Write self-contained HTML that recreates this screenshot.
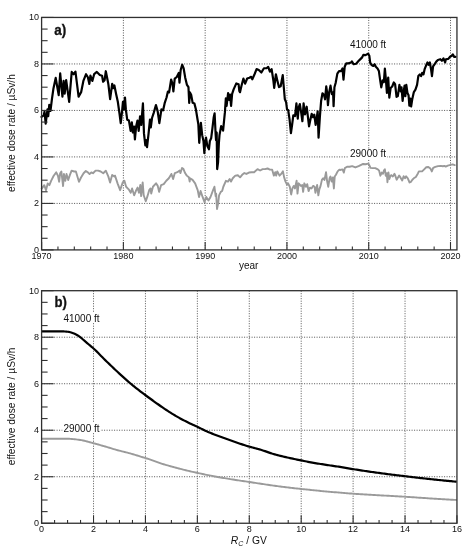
<!DOCTYPE html><html><head><meta charset="utf-8"><title>effective dose rate</title>
<style>html,body{margin:0;padding:0;background:#fff}svg{display:block}text{font-family:"Liberation Sans",Arial,sans-serif;fill:#111}</style></head><body>
<svg width="468" height="550" viewBox="0 0 468 550">
<rect width="468" height="550" fill="#fff"/>
<g stroke="#555" stroke-width="1" stroke-dasharray="1 1.5" fill="none">
<line x1="41.6" y1="203.41" x2="456.95" y2="203.41"/>
<line x1="41.6" y1="156.92" x2="456.95" y2="156.92"/>
<line x1="41.6" y1="110.43" x2="456.95" y2="110.43"/>
<line x1="41.6" y1="63.94" x2="456.95" y2="63.94"/>
<line x1="123.38" y1="17.45" x2="123.38" y2="249.9"/>
<line x1="205.16" y1="17.45" x2="205.16" y2="249.9"/>
<line x1="286.94" y1="17.45" x2="286.94" y2="249.9"/>
<line x1="368.72" y1="17.45" x2="368.72" y2="249.9"/>
<line x1="450.50" y1="17.45" x2="450.50" y2="249.9"/>
</g>
<polyline points="41.71,188.59 44.27,185.17 45.98,190.3 47.69,183.46 49.4,185.17 51.11,180.9 53.68,175.77 56.24,172.35 57.95,175.77 59.15,181.75 60.17,173.21 61.37,171.5 63.08,186.03 63.93,174.06 65.3,180.9 66.5,174.06 68.21,180.04 69.91,174.91 71.62,170.64 74.19,171.5 75.9,171.5 78.97,181.75 81.03,177.48 83.59,173.21 85.81,170.98 87.86,172.35 89.57,174.06 91.28,172.35 92.99,173.21 95.56,170.64 98.12,170.64 100.68,171.5 103.25,173.21 105.81,170.64 108.38,176.62 110.09,182.61 112.14,174.91 114.36,176.62 115,175.64 117.56,183.33 120.13,190.17 122.69,182.48 124.4,180.77 126.11,186.75 128.68,189.32 130.73,192.74 132.09,188.46 134.15,195.3 135.85,191.03 137.56,187.61 138.93,192.74 140.3,185.04 141.15,196.15 142.69,182.48 143.72,195.3 145.77,201.28 147.48,196.15 149.19,190.17 150.56,188.46 151.24,193.59 152.95,186.75 156.03,183.33 157.74,185.9 159.1,191.88 161.15,185.04 163.72,184.19 166.28,180.77 168.85,178.21 171.41,173.93 173.12,179.06 174.83,173.08 177.39,172.22 179.62,170.51 180.47,173.08 182.01,167.95 183.38,168.8 185.09,173.08 186.79,175.64 188.85,177.35 189.7,181.62 190,178.21 192.56,179.91 195.13,183.33 197.69,190.17 199.06,197.01 200.6,191.03 202.31,196.15 204.53,202.14 206.24,197.01 208.46,200.43 210.51,197.01 213.08,190.17 214.44,186.75 215.64,196.15 216.15,193.59 217.01,208.97 218.21,202.99 219.06,195.3 220.77,191.88 222.14,191.03 223.33,186.75 225.9,180.77 227.95,181.62 229.66,179.06 231.03,181.62 232.74,178.21 235.3,175.64 237.86,175.3 240.09,177.35 242.14,174.79 244.36,173.08 246.41,173.93 248.97,172.56 251.54,172.22 254.1,172.22 257.52,169.15 260.09,170.51 262.65,169.15 265,169.15 267.56,168.46 269.79,169.66 272.18,169.66 273.89,175.64 275.26,172.22 276.11,175.64 277.31,171.37 279.53,175.64 281.24,173.93 282.95,171.37 284.15,177.35 285.51,181.62 286.88,184.19 288.08,183.33 289.79,186.75 291.15,194.44 292.35,188.46 293.72,185.9 294.91,188.46 296.62,180.77 297.48,193.59 298.68,183.33 300.9,185.9 302.26,185.04 303.12,191.88 304.32,183.33 306.03,186.75 307.22,184.19 308.59,191.03 309.96,187.61 311.5,188.46 313.21,185.9 314.57,186.75 315.43,192.74 317.14,185.04 318.33,195.3 319.36,189.32 320.56,185.9 321.92,179.91 323.12,178.21 324.49,179.91 326.03,172.22 327.05,180.77 328.25,186.75 329.62,178.21 330.47,176.5 331.67,181.62 332.86,177.35 333.89,188.46 334.74,176.5 335.94,174.79 337.65,171.37 339.36,169.66 340,170 342.56,169.36 343.85,172.56 344.87,168.08 347.05,166.79 349.62,166.79 352.18,166.15 355.38,167.44 358.59,166.15 361.15,164.87 363.08,163.97 365.64,164.23 368.21,163.59 369.49,165.51 370.51,167.82 372.69,168.08 375.26,168.08 377.82,169.36 379.1,170.64 380.38,175.77 381.67,172.56 382.95,173.85 383.85,170.64 384.87,169.36 385.77,175.77 386.79,173.21 387.44,182.18 388.46,172.56 389.36,178.97 390.26,176.41 391.28,175.13 392.82,176.41 394.49,173.85 395,174.86 396.67,179.72 399.17,175.56 400.56,177.64 402.22,180.42 403.61,176.25 405,178.33 406.11,176.25 407.78,178.33 409.58,182.5 410.97,181.81 412.36,179.72 413.75,178.33 415.83,176.94 417.92,173.47 418.89,171.39 420.69,171.39 422.08,171.39 424.17,169.31 426.25,167.22 428.33,166.94 430.42,168.61 431.81,171.39 433.19,167.92 435.28,166.94 438.06,166.11 440.83,165.83 442.92,166.25 444.31,165.83 445.69,166.53 447.78,165.56 450.56,164.86 452.64,164.44 454.72,165.14" fill="none" stroke="#9a9a9a" stroke-width="1.9" stroke-linejoin="round" stroke-linecap="round"/>
<polyline points="41.5,116.84 43.74,115.34 44.49,111.6 45.68,123.57 47.48,109.36 48.23,116.09 49.27,104.87 50.47,110.85 51.97,98.89 53.46,88.42 55.7,77.95 58.7,95.15 60.19,73.46 62.43,96.64 63.63,80.94 64.68,93.65 66.17,80.19 69.17,101.88 71.71,71.97 73.65,74.21 75.45,71.67 78.59,96.64 81.13,92.16 83.37,80.94 86.07,74.21 87.86,77.2 89.36,83.93 90.4,75.7 92.35,80.94 94.14,74.21 96.84,71.97 99.83,74.96 102.07,75.7 103.12,81.69 104.61,80.19 105.81,71.22 108.05,82.43 108.42,84.66 110.13,99.19 112.18,83.8 113.21,88.08 114.4,85.51 116.11,94.06 117.82,101.75 119.53,113.72 120.73,123.12 122.09,111.15 122.95,101.75 123.8,109.44 125,97.48 125.85,109.44 127.22,119.7 128.93,120.56 130.64,130.81 131.84,122.26 132.86,132.52 134.06,126.54 134.91,139.36 136.11,126.54 137.48,120.56 138.68,130.81 140.04,116.28 141.24,124.83 142.95,103.46 143.97,133.38 145.34,145.34 146.03,140.21 147.05,147.05 148.59,133.38 149.96,119.7 150.81,127.39 152.01,117.99 153.72,112.86 155.94,105.17 157.65,111.15 159.36,123.12 161.41,109.44 163.12,110.3 164.83,102.61 166.54,97.48 167.91,91.5 169.1,92.35 171.15,79.53 172.52,83.8 173.38,91.5 174.74,78.68 176.79,76.97 177.24,75.94 178.74,72.95 179.49,82.67 180.68,69.96 182.18,64.72 183.67,68.46 185.17,77.43 186.97,84.91 188.46,87.16 189.21,102.86 189.96,92.39 191.15,94.64 192.65,102.86 194.44,103.61 195.94,109.59 197.05,116.54 198.33,124.23 199.23,142.82 200.9,122.95 202.18,135.13 203.46,140.9 204.36,153.08 205.13,142.18 206.03,137.69 207.31,146.03 208.97,149.23 209.87,140.9 211.15,138.33 212.44,128.08 213.72,117.18 214.62,113.33 215.64,134.49 216.03,140.26 216.67,132.56 217.18,169.1 218.08,162.05 218.85,143.46 219.49,135.13 221.15,126.15 222.05,128.08 223.08,130.64 223.97,121.67 224.87,112.69 225.85,98.37 226.6,105.85 228.1,93.14 229.14,99.87 230.04,94.64 231.09,105.85 232.13,93.89 233.63,89.4 236.32,83.42 238.57,84.17 239.31,90.9 240,92.19 241.37,86.21 243.42,78.51 245.13,83.64 247.18,78.51 249.4,77.66 251.11,76.8 252.31,79.37 254.53,74.24 256.58,69.11 258.8,69.97 261.37,72.53 263.93,68.26 266.5,68.26 268.21,66.89 269.91,71.68 271.62,69.11 273.33,80.22 274.19,87.91 275.9,74.24 277.26,80.22 278.97,87.06 280.68,86.21 282.74,75.09 283.93,88.77 284.79,99.03 286.15,102.44 287.01,109.28 288.21,110.14 289.57,119.54 290.94,133.21 292.14,124.67 293.33,115.26 295.04,116.12 296.41,103.3 297.78,118.68 298.63,107.57 299.83,104.15 301.2,112.7 302.39,121.25 303.59,103.3 304.96,114.41 306.67,106.72 308.03,117.83 309.06,126.38 310,121.5 311.71,113.81 313.08,117.23 314.27,114.67 315.64,124.92 316.84,117.23 317.69,111.25 318.55,137.74 319.91,116.38 321.11,100.99 322.48,93.3 324.02,95.01 325.04,99.28 326.24,86.46 327.09,92.44 327.95,105.26 329.15,92.44 330.51,85.61 331.88,94.15 333.08,92.44 333.59,106.12 334.44,87.32 335.64,83.04 337.35,73.64 339.06,71.08 341.11,71.08 342.48,68.51 343.5,79.62 344.7,66.8 346.24,63.38 348.46,63.38 351.03,62.53 351.88,61.33 353.59,64.24 356.15,63.73 358.72,60.82 360.43,59.11 362.14,57.4 363.33,54.84 365.56,55.18 368.12,53.64 369.32,55.69 370.17,62.53 371.54,65.09 373.25,65.95 374.62,64.24 375.81,66.8 377.52,68.51 378.89,71.08 380.09,79.62 381.28,87.32 382.65,80.48 383.85,82.19 384.87,68.51 385.8,78.46 386.92,92.88 388.21,77.66 389.33,97.69 390.61,88.08 392.21,86.47 393.81,82.47 395.1,84.07 396.54,96.89 397.82,96.09 399.42,84.87 400.71,91.28 401.51,87.28 402.63,100.9 403.75,91.28 404.55,85.67 405.35,96.09 406.31,84.87 407.44,92.88 408.56,95.29 409.36,105.71 410.32,98.49 411.12,106.51 412.24,99.29 413.85,92.08 415.45,89.68 417.05,84.87 418.33,76.06 419.78,74.46 421.06,76.06 422.18,72.85 423.46,74.46 424.74,68.85 426.35,64.84 427.47,62.44 428.59,64.84 429.87,62.44 430.99,68.85 431.96,76.06 433.08,66.44 434.68,64.04 436.28,61.63 437.88,60.03 440.29,59.23 441.89,60.83 443.49,58.43 445.1,62.44 445.9,59.23 448.3,58.91 449.9,56.83 451.51,56.03 452.79,54.42 454.23,56.83 455.51,56.83" fill="none" stroke="#000" stroke-width="2.2" stroke-linejoin="round" stroke-linecap="round"/>
<rect x="349" y="39.5" width="38" height="10" fill="#fff"/>
<rect x="349" y="149" width="38" height="10" fill="#fff"/>
<text x="350" y="47.9" font-size="10">41000 ft</text>
<text x="350" y="157.4" font-size="10">29000 ft</text>
<text x="54.3" y="35.2" font-size="15" font-weight="bold" stroke="#1a1a1a" stroke-width="0.35" textLength="12" lengthAdjust="spacingAndGlyphs">a)</text>
<g stroke="#303030" stroke-width="1.1" fill="none">
<line x1="41.6" y1="249.90" x2="53.6" y2="249.90"/>
<line x1="41.6" y1="238.28" x2="47.6" y2="238.28"/>
<line x1="41.6" y1="226.66" x2="47.6" y2="226.66"/>
<line x1="41.6" y1="215.03" x2="47.6" y2="215.03"/>
<line x1="41.6" y1="203.41" x2="53.6" y2="203.41"/>
<line x1="41.6" y1="191.79" x2="47.6" y2="191.79"/>
<line x1="41.6" y1="180.17" x2="47.6" y2="180.17"/>
<line x1="41.6" y1="168.54" x2="47.6" y2="168.54"/>
<line x1="41.6" y1="156.92" x2="53.6" y2="156.92"/>
<line x1="41.6" y1="145.30" x2="47.6" y2="145.30"/>
<line x1="41.6" y1="133.68" x2="47.6" y2="133.68"/>
<line x1="41.6" y1="122.05" x2="47.6" y2="122.05"/>
<line x1="41.6" y1="110.43" x2="53.6" y2="110.43"/>
<line x1="41.6" y1="98.81" x2="47.6" y2="98.81"/>
<line x1="41.6" y1="87.19" x2="47.6" y2="87.19"/>
<line x1="41.6" y1="75.56" x2="47.6" y2="75.56"/>
<line x1="41.6" y1="63.94" x2="53.6" y2="63.94"/>
<line x1="41.6" y1="52.32" x2="47.6" y2="52.32"/>
<line x1="41.6" y1="40.69" x2="47.6" y2="40.69"/>
<line x1="41.6" y1="29.07" x2="47.6" y2="29.07"/>
<line x1="41.6" y1="17.45" x2="53.6" y2="17.45"/>
<line x1="41.60" y1="249.9" x2="41.60" y2="241.9"/>
<line x1="123.38" y1="249.9" x2="123.38" y2="241.9"/>
<line x1="205.16" y1="249.9" x2="205.16" y2="241.9"/>
<line x1="286.94" y1="249.9" x2="286.94" y2="241.9"/>
<line x1="368.72" y1="249.9" x2="368.72" y2="241.9"/>
<line x1="450.50" y1="249.9" x2="450.50" y2="241.9"/>
<line x1="57.96" y1="249.9" x2="57.96" y2="246.6"/>
<line x1="74.31" y1="249.9" x2="74.31" y2="246.6"/>
<line x1="90.67" y1="249.9" x2="90.67" y2="246.6"/>
<line x1="107.02" y1="249.9" x2="107.02" y2="246.6"/>
<line x1="139.74" y1="249.9" x2="139.74" y2="246.6"/>
<line x1="156.09" y1="249.9" x2="156.09" y2="246.6"/>
<line x1="172.45" y1="249.9" x2="172.45" y2="246.6"/>
<line x1="188.80" y1="249.9" x2="188.80" y2="246.6"/>
<line x1="221.52" y1="249.9" x2="221.52" y2="246.6"/>
<line x1="237.87" y1="249.9" x2="237.87" y2="246.6"/>
<line x1="254.23" y1="249.9" x2="254.23" y2="246.6"/>
<line x1="270.58" y1="249.9" x2="270.58" y2="246.6"/>
<line x1="303.30" y1="249.9" x2="303.30" y2="246.6"/>
<line x1="319.65" y1="249.9" x2="319.65" y2="246.6"/>
<line x1="336.01" y1="249.9" x2="336.01" y2="246.6"/>
<line x1="352.36" y1="249.9" x2="352.36" y2="246.6"/>
<line x1="385.08" y1="249.9" x2="385.08" y2="246.6"/>
<line x1="401.43" y1="249.9" x2="401.43" y2="246.6"/>
<line x1="417.79" y1="249.9" x2="417.79" y2="246.6"/>
<line x1="434.14" y1="249.9" x2="434.14" y2="246.6"/>
</g>
<rect x="41.6" y="17.45" width="415.34999999999997" height="232.45000000000002" fill="none" stroke="#303030" stroke-width="1.3"/>
<g font-size="9" text-anchor="end">
<text x="38.9" y="252.90">0</text>
<text x="38.9" y="206.41">2</text>
<text x="38.9" y="159.92">4</text>
<text x="38.9" y="113.43">6</text>
<text x="38.9" y="66.94">8</text>
<text x="38.9" y="20.45">10</text>
</g>
<g font-size="9" text-anchor="middle">
<text x="41.60" y="258.80">1970</text>
<text x="123.38" y="258.80">1980</text>
<text x="205.16" y="258.80">1990</text>
<text x="286.94" y="258.80">2000</text>
<text x="368.72" y="258.80">2010</text>
<text x="450.50" y="258.80">2020</text>
</g>
<text font-size="10.2" text-anchor="middle" transform="translate(14.8,133.08) rotate(-90)">effective dose rate / µSv/h</text>
<text x="248.7" y="268.8" font-size="10" text-anchor="middle">year</text>
<g stroke="#555" stroke-width="1" stroke-dasharray="1 1.5" fill="none">
<line x1="41.6" y1="476.74" x2="456.95" y2="476.74"/>
<line x1="41.6" y1="430.23" x2="456.95" y2="430.23"/>
<line x1="41.6" y1="383.72" x2="456.95" y2="383.72"/>
<line x1="41.6" y1="337.21" x2="456.95" y2="337.21"/>
<line x1="93.52" y1="290.7" x2="93.52" y2="523.25"/>
<line x1="145.44" y1="290.7" x2="145.44" y2="523.25"/>
<line x1="197.36" y1="290.7" x2="197.36" y2="523.25"/>
<line x1="249.28" y1="290.7" x2="249.28" y2="523.25"/>
<line x1="301.20" y1="290.7" x2="301.20" y2="523.25"/>
<line x1="353.12" y1="290.7" x2="353.12" y2="523.25"/>
<line x1="405.04" y1="290.7" x2="405.04" y2="523.25"/>
</g>
<polyline points="41.3,438.7 42.69,438.7 44.08,438.7 45.47,438.7 46.86,438.7 48.25,438.7 49.64,438.7 51.03,438.7 52.42,438.7 53.81,438.7 55.19,438.7 56.58,438.7 57.97,438.7 59.36,438.7 60.75,438.7 62.14,438.7 63.53,438.7 64.92,438.7 66.31,438.7 67.7,438.74 69.09,438.8 70.48,438.89 71.87,439 73.26,439.13 74.65,439.27 76.04,439.42 77.43,439.58 78.82,439.74 80.21,439.94 81.59,440.19 82.98,440.48 84.37,440.8 85.76,441.15 87.15,441.51 88.54,441.88 89.93,442.25 91.32,442.61 92.71,442.96 94.1,443.33 95.49,443.71 96.88,444.1 98.27,444.5 99.66,444.91 101.05,445.31 102.44,445.72 103.83,446.12 105.22,446.53 106.6,446.94 107.99,447.36 109.38,447.78 110.77,448.2 112.16,448.62 113.55,449.04 114.94,449.45 116.33,449.84 117.72,450.22 119.11,450.59 120.5,450.95 121.89,451.3 123.28,451.64 124.67,451.99 126.06,452.34 127.45,452.69 128.84,453.06 130.23,453.45 131.62,453.84 133,454.25 134.39,454.67 135.78,455.09 137.17,455.52 138.56,455.95 139.95,456.38 141.34,456.81 142.73,457.24 144.12,457.67 145.51,458.09 146.9,458.52 148.29,458.95 149.68,459.4 151.07,459.86 152.46,460.34 153.85,460.83 155.24,461.34 156.63,461.85 158.02,462.36 159.4,462.86 160.79,463.34 162.18,463.8 163.57,464.24 164.96,464.66 166.35,465.07 167.74,465.46 169.13,465.85 170.52,466.23 171.91,466.61 173.3,466.98 174.69,467.36 176.08,467.73 177.47,468.1 178.86,468.47 180.25,468.83 181.64,469.19 183.03,469.55 184.41,469.9 185.8,470.25 187.19,470.59 188.58,470.92 189.97,471.25 191.36,471.57 192.75,471.88 194.14,472.19 195.53,472.5 196.92,472.8 198.31,473.1 199.7,473.39 201.09,473.69 202.48,473.98 203.87,474.27 205.26,474.56 206.65,474.84 208.04,475.12 209.43,475.4 210.81,475.67 212.2,475.94 213.59,476.21 214.98,476.46 216.37,476.72 217.76,476.97 219.15,477.22 220.54,477.47 221.93,477.71 223.32,477.95 224.71,478.18 226.1,478.42 227.49,478.65 228.88,478.88 230.27,479.1 231.66,479.33 233.05,479.55 234.44,479.77 235.83,479.98 237.21,480.19 238.6,480.4 239.99,480.61 241.38,480.82 242.77,481.02 244.16,481.22 245.55,481.43 246.94,481.64 248.33,481.84 249.72,482.05 251.11,482.27 252.5,482.48 253.89,482.69 255.28,482.91 256.67,483.12 258.06,483.34 259.45,483.55 260.84,483.76 262.22,483.97 263.61,484.18 265,484.39 266.39,484.6 267.78,484.8 269.17,485 270.56,485.19 271.95,485.39 273.34,485.58 274.73,485.77 276.12,485.97 277.51,486.15 278.9,486.34 280.29,486.52 281.68,486.71 283.07,486.88 284.46,487.06 285.85,487.23 287.24,487.4 288.62,487.56 290.01,487.73 291.4,487.89 292.79,488.04 294.18,488.2 295.57,488.35 296.96,488.51 298.35,488.66 299.74,488.81 301.13,488.96 302.52,489.1 303.91,489.25 305.3,489.39 306.69,489.53 308.08,489.67 309.47,489.81 310.86,489.95 312.25,490.08 313.64,490.22 315.02,490.37 316.41,490.51 317.8,490.65 319.19,490.8 320.58,490.94 321.97,491.08 323.36,491.22 324.75,491.36 326.14,491.49 327.53,491.62 328.92,491.74 330.31,491.86 331.7,491.97 333.09,492.08 334.48,492.18 335.87,492.29 337.26,492.39 338.65,492.5 340.03,492.61 341.42,492.72 342.81,492.84 344.2,492.96 345.59,493.08 346.98,493.21 348.37,493.33 349.76,493.45 351.15,493.57 352.54,493.67 353.93,493.77 355.32,493.87 356.71,493.97 358.1,494.06 359.49,494.15 360.88,494.23 362.27,494.32 363.66,494.4 365.05,494.49 366.43,494.57 367.82,494.65 369.21,494.73 370.6,494.81 371.99,494.89 373.38,494.96 374.77,495.04 376.16,495.12 377.55,495.2 378.94,495.28 380.33,495.36 381.72,495.44 383.11,495.52 384.5,495.6 385.89,495.67 387.28,495.75 388.67,495.82 390.06,495.9 391.45,495.97 392.83,496.05 394.22,496.12 395.61,496.2 397,496.27 398.39,496.35 399.78,496.43 401.17,496.51 402.56,496.59 403.95,496.67 405.34,496.76 406.73,496.84 408.12,496.93 409.51,497.02 410.9,497.11 412.29,497.21 413.68,497.3 415.07,497.4 416.46,497.49 417.84,497.59 419.23,497.69 420.62,497.79 422.01,497.88 423.4,497.98 424.79,498.07 426.18,498.17 427.57,498.26 428.96,498.35 430.35,498.44 431.74,498.53 433.13,498.62 434.52,498.7 435.91,498.79 437.3,498.87 438.69,498.96 440.08,499.04 441.47,499.13 442.86,499.21 444.24,499.29 445.63,499.37 447.02,499.45 448.41,499.53 449.8,499.61 451.19,499.69 452.58,499.77 453.97,499.85 455.36,499.92 456.75,500" fill="none" stroke="#9a9a9a" stroke-width="1.9" stroke-linejoin="round"/>
<polyline points="41.3,331.3 42.69,331.3 44.08,331.3 45.47,331.3 46.86,331.3 48.25,331.3 49.64,331.3 51.03,331.3 52.42,331.3 53.81,331.3 55.19,331.3 56.58,331.3 57.97,331.3 59.36,331.3 60.75,331.3 62.14,331.33 63.53,331.39 64.92,331.49 66.31,331.6 67.7,331.75 69.09,331.94 70.48,332.3 71.87,332.77 73.26,333.28 74.65,333.85 76.04,334.51 77.43,335.26 78.82,336.1 80.21,337.12 81.59,338.28 82.98,339.48 84.37,340.65 85.76,341.85 87.15,343.06 88.54,344.26 89.93,345.43 91.32,346.57 92.71,347.74 94.1,348.97 95.49,350.28 96.88,351.65 98.27,353.05 99.66,354.48 101.05,355.92 102.44,357.34 103.83,358.73 105.22,360.09 106.6,361.45 107.99,362.81 109.38,364.15 110.77,365.5 112.16,366.83 113.55,368.15 114.94,369.47 116.33,370.77 117.72,372.06 119.11,373.35 120.5,374.63 121.89,375.9 123.28,377.16 124.67,378.41 126.06,379.65 127.45,380.87 128.84,382.07 130.23,383.24 131.62,384.4 133,385.55 134.39,386.68 135.78,387.8 137.17,388.9 138.56,389.99 139.95,391.07 141.34,392.14 142.73,393.2 144.12,394.24 145.51,395.26 146.9,396.26 148.29,397.26 149.68,398.25 151.07,399.25 152.46,400.26 153.85,401.27 155.24,402.27 156.63,403.28 158.02,404.27 159.4,405.26 160.79,406.23 162.18,407.18 163.57,408.12 164.96,409.05 166.35,409.98 167.74,410.9 169.13,411.8 170.52,412.69 171.91,413.57 173.3,414.43 174.69,415.26 176.08,416.08 177.47,416.87 178.86,417.66 180.25,418.42 181.64,419.17 183.03,419.91 184.41,420.64 185.8,421.35 187.19,422.05 188.58,422.74 189.97,423.41 191.36,424.05 192.75,424.68 194.14,425.31 195.53,425.93 196.92,426.57 198.31,427.24 199.7,427.93 201.09,428.63 202.48,429.33 203.87,430.02 205.26,430.68 206.65,431.31 208.04,431.91 209.43,432.49 210.81,433.06 212.2,433.62 213.59,434.16 214.98,434.7 216.37,435.23 217.76,435.76 219.15,436.28 220.54,436.8 221.93,437.31 223.32,437.82 224.71,438.31 226.1,438.81 227.49,439.29 228.88,439.78 230.27,440.26 231.66,440.75 233.05,441.23 234.44,441.72 235.83,442.21 237.21,442.69 238.6,443.18 239.99,443.67 241.38,444.14 242.77,444.61 244.16,445.08 245.55,445.53 246.94,445.97 248.33,446.39 249.72,446.79 251.11,447.18 252.5,447.54 253.89,447.89 255.28,448.25 256.67,448.6 258.06,448.97 259.45,449.35 260.84,449.76 262.22,450.2 263.61,450.67 265,451.16 266.39,451.65 267.78,452.15 269.17,452.63 270.56,453.1 271.95,453.55 273.34,453.96 274.73,454.35 276.12,454.73 277.51,455.1 278.9,455.47 280.29,455.82 281.68,456.16 283.07,456.5 284.46,456.83 285.85,457.16 287.24,457.48 288.62,457.79 290.01,458.1 291.4,458.4 292.79,458.69 294.18,458.98 295.57,459.27 296.96,459.56 298.35,459.84 299.74,460.12 301.13,460.41 302.52,460.69 303.91,460.97 305.3,461.25 306.69,461.53 308.08,461.81 309.47,462.07 310.86,462.34 312.25,462.59 313.64,462.84 315.02,463.08 316.41,463.32 317.8,463.55 319.19,463.77 320.58,463.99 321.97,464.21 323.36,464.43 324.75,464.64 326.14,464.85 327.53,465.07 328.92,465.28 330.31,465.49 331.7,465.69 333.09,465.89 334.48,466.1 335.87,466.3 337.26,466.5 338.65,466.71 340.03,466.92 341.42,467.14 342.81,467.36 344.2,467.6 345.59,467.84 346.98,468.09 348.37,468.33 349.76,468.57 351.15,468.81 352.54,469.04 353.93,469.26 355.32,469.48 356.71,469.7 358.1,469.92 359.49,470.14 360.88,470.35 362.27,470.56 363.66,470.77 365.05,470.98 366.43,471.18 367.82,471.39 369.21,471.59 370.6,471.79 371.99,471.99 373.38,472.19 374.77,472.38 376.16,472.58 377.55,472.77 378.94,472.96 380.33,473.15 381.72,473.33 383.11,473.51 384.5,473.7 385.89,473.88 387.28,474.05 388.67,474.23 390.06,474.41 391.45,474.58 392.83,474.75 394.22,474.92 395.61,475.09 397,475.26 398.39,475.43 399.78,475.6 401.17,475.76 402.56,475.93 403.95,476.1 405.34,476.26 406.73,476.43 408.12,476.59 409.51,476.75 410.9,476.92 412.29,477.08 413.68,477.24 415.07,477.4 416.46,477.56 417.84,477.72 419.23,477.88 420.62,478.04 422.01,478.19 423.4,478.35 424.79,478.5 426.18,478.65 427.57,478.8 428.96,478.95 430.35,479.1 431.74,479.25 433.13,479.4 434.52,479.54 435.91,479.69 437.3,479.83 438.69,479.98 440.08,480.12 441.47,480.26 442.86,480.4 444.24,480.54 445.63,480.68 447.02,480.82 448.41,480.95 449.8,481.09 451.19,481.22 452.58,481.36 453.97,481.49 455.36,481.62 456.75,481.75" fill="none" stroke="#000" stroke-width="2.2" stroke-linejoin="round"/>
<rect x="62.5" y="313" width="38" height="10" fill="#fff"/>
<rect x="62.5" y="423" width="38" height="10" fill="#fff"/>
<text x="63.4" y="321.7" font-size="10">41000 ft</text>
<text x="63.4" y="431.5" font-size="10">29000 ft</text>
<text x="54.6" y="307.3" font-size="15" font-weight="bold" stroke="#1a1a1a" stroke-width="0.35" textLength="12.4" lengthAdjust="spacingAndGlyphs">b)</text>
<g stroke="#303030" stroke-width="1.1" fill="none">
<line x1="41.6" y1="523.25" x2="53.6" y2="523.25"/>
<line x1="41.6" y1="511.62" x2="47.6" y2="511.62"/>
<line x1="41.6" y1="500.00" x2="47.6" y2="500.00"/>
<line x1="41.6" y1="488.37" x2="47.6" y2="488.37"/>
<line x1="41.6" y1="476.74" x2="53.6" y2="476.74"/>
<line x1="41.6" y1="465.11" x2="47.6" y2="465.11"/>
<line x1="41.6" y1="453.49" x2="47.6" y2="453.49"/>
<line x1="41.6" y1="441.86" x2="47.6" y2="441.86"/>
<line x1="41.6" y1="430.23" x2="53.6" y2="430.23"/>
<line x1="41.6" y1="418.60" x2="47.6" y2="418.60"/>
<line x1="41.6" y1="406.98" x2="47.6" y2="406.98"/>
<line x1="41.6" y1="395.35" x2="47.6" y2="395.35"/>
<line x1="41.6" y1="383.72" x2="53.6" y2="383.72"/>
<line x1="41.6" y1="372.09" x2="47.6" y2="372.09"/>
<line x1="41.6" y1="360.46" x2="47.6" y2="360.46"/>
<line x1="41.6" y1="348.84" x2="47.6" y2="348.84"/>
<line x1="41.6" y1="337.21" x2="53.6" y2="337.21"/>
<line x1="41.6" y1="325.58" x2="47.6" y2="325.58"/>
<line x1="41.6" y1="313.95" x2="47.6" y2="313.95"/>
<line x1="41.6" y1="302.33" x2="47.6" y2="302.33"/>
<line x1="41.6" y1="290.70" x2="53.6" y2="290.70"/>
<line x1="41.60" y1="523.25" x2="41.60" y2="515.25"/>
<line x1="93.52" y1="523.25" x2="93.52" y2="515.25"/>
<line x1="145.44" y1="523.25" x2="145.44" y2="515.25"/>
<line x1="197.36" y1="523.25" x2="197.36" y2="515.25"/>
<line x1="249.28" y1="523.25" x2="249.28" y2="515.25"/>
<line x1="301.20" y1="523.25" x2="301.20" y2="515.25"/>
<line x1="353.12" y1="523.25" x2="353.12" y2="515.25"/>
<line x1="405.04" y1="523.25" x2="405.04" y2="515.25"/>
<line x1="456.96" y1="523.25" x2="456.96" y2="515.25"/>
<line x1="54.58" y1="523.25" x2="54.58" y2="519.95"/>
<line x1="67.56" y1="523.25" x2="67.56" y2="519.95"/>
<line x1="80.54" y1="523.25" x2="80.54" y2="519.95"/>
<line x1="106.50" y1="523.25" x2="106.50" y2="519.95"/>
<line x1="119.48" y1="523.25" x2="119.48" y2="519.95"/>
<line x1="132.46" y1="523.25" x2="132.46" y2="519.95"/>
<line x1="158.42" y1="523.25" x2="158.42" y2="519.95"/>
<line x1="171.40" y1="523.25" x2="171.40" y2="519.95"/>
<line x1="184.38" y1="523.25" x2="184.38" y2="519.95"/>
<line x1="210.34" y1="523.25" x2="210.34" y2="519.95"/>
<line x1="223.32" y1="523.25" x2="223.32" y2="519.95"/>
<line x1="236.30" y1="523.25" x2="236.30" y2="519.95"/>
<line x1="262.26" y1="523.25" x2="262.26" y2="519.95"/>
<line x1="275.24" y1="523.25" x2="275.24" y2="519.95"/>
<line x1="288.22" y1="523.25" x2="288.22" y2="519.95"/>
<line x1="314.18" y1="523.25" x2="314.18" y2="519.95"/>
<line x1="327.16" y1="523.25" x2="327.16" y2="519.95"/>
<line x1="340.14" y1="523.25" x2="340.14" y2="519.95"/>
<line x1="366.10" y1="523.25" x2="366.10" y2="519.95"/>
<line x1="379.08" y1="523.25" x2="379.08" y2="519.95"/>
<line x1="392.06" y1="523.25" x2="392.06" y2="519.95"/>
<line x1="418.02" y1="523.25" x2="418.02" y2="519.95"/>
<line x1="431.00" y1="523.25" x2="431.00" y2="519.95"/>
<line x1="443.98" y1="523.25" x2="443.98" y2="519.95"/>
</g>
<rect x="41.6" y="290.7" width="415.34999999999997" height="232.55" fill="none" stroke="#303030" stroke-width="1.3"/>
<g font-size="9" text-anchor="end">
<text x="38.9" y="526.25">0</text>
<text x="38.9" y="479.74">2</text>
<text x="38.9" y="433.23">4</text>
<text x="38.9" y="386.72">6</text>
<text x="38.9" y="340.21">8</text>
<text x="38.9" y="293.70">10</text>
</g>
<g font-size="9" text-anchor="middle">
<text x="41.60" y="532.15">0</text>
<text x="93.52" y="532.15">2</text>
<text x="145.44" y="532.15">4</text>
<text x="197.36" y="532.15">6</text>
<text x="249.28" y="532.15">8</text>
<text x="301.20" y="532.15">10</text>
<text x="353.12" y="532.15">12</text>
<text x="405.04" y="532.15">14</text>
<text x="456.96" y="532.15">16</text>
</g>
<text font-size="10.2" text-anchor="middle" transform="translate(14.8,406.38) rotate(-90)">effective dose rate / µSv/h</text>
<text x="230.8" y="543.7" font-size="10.3"><tspan font-style="italic">R</tspan><tspan font-style="italic" font-size="7" dy="2">C</tspan><tspan dy="-2"> / GV</tspan></text>
</svg></body></html>
